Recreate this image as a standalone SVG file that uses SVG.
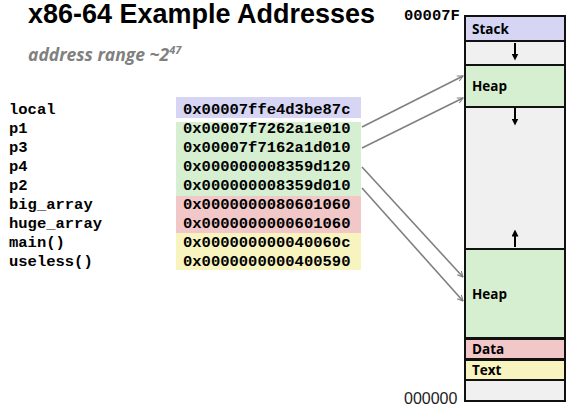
<svg xmlns="http://www.w3.org/2000/svg" width="587" height="410" viewBox="0 0 587 410">
<style>
.title{font-family:"Liberation Sans",Arial,sans-serif;font-weight:bold;font-size:27px;fill:#000}
.sub{font-family:"Open Sans","Liberation Sans",sans-serif;font-weight:bold;font-style:italic;font-size:17.5px;fill:#808080}
.mono{font-family:"Liberation Mono","Courier New",monospace;font-weight:bold;font-size:15.5px;fill:#000}
.seg{stroke:#111;stroke-width:2}
.lbl{font-family:"Open Sans","Liberation Sans",sans-serif;font-weight:bold;font-size:13.5px;fill:#000}
.conn{stroke:#808080;stroke-width:1.6;fill:none;marker-end:url(#ah)}
.grow{stroke:#000;stroke-width:2;fill:none;marker-end:url(#bh)}
.lav{fill:#d6d6f4}.grn{fill:#d5efd0}.red{fill:#f2c7c7}.yel{fill:#f7f4c0}.gry{fill:#f0f0f0}
</style>
<defs>
<marker id="ah" viewBox="0 0 10 10" refX="9" refY="5" markerWidth="7" markerHeight="7" orient="auto" markerUnits="userSpaceOnUse">
<polyline points="1,1 9,5 1,9" fill="none" stroke="#808080" stroke-width="1.6"/>
</marker>
<marker id="bh" viewBox="0 0 10 10" refX="5" refY="5" markerWidth="7" markerHeight="7" orient="auto" markerUnits="userSpaceOnUse">
<path d="M0,0 L10,5 L0,10 Z" fill="#000"/>
</marker>
</defs>
<text class="title" x="28" y="23" textLength="347" lengthAdjust="spacingAndGlyphs">x86-64 Example Addresses</text>
<text class="sub" x="28" y="61">address range ~2<tspan font-size="11" dy="-7">47</tspan></text>

<g id="vars">
<rect class="lav" x="176" y="97" width="185" height="21"/>
<rect class="grn" x="176" y="122" width="185" height="74"/>
<rect class="red" x="176" y="196" width="185" height="37"/>
<rect class="yel" x="176" y="233" width="185" height="37"/>
<text class="mono" x="9" y="114">local</text><text class="mono" x="183" y="114">0x00007ffe4d3be87c</text>
<text class="mono" x="9" y="133">p1</text><text class="mono" x="183" y="133">0x00007f7262a1e010</text>
<text class="mono" x="9" y="152">p3</text><text class="mono" x="183" y="152">0x00007f7162a1d010</text>
<text class="mono" x="9" y="171">p4</text><text class="mono" x="183" y="171">0x000000008359d120</text>
<text class="mono" x="9" y="190">p2</text><text class="mono" x="183" y="190">0x000000008359d010</text>
<text class="mono" x="9" y="209">big_array</text><text class="mono" x="183" y="209">0x0000000080601060</text>
<text class="mono" x="9" y="228">huge_array</text><text class="mono" x="183" y="228">0x0000000000601060</text>
<text class="mono" x="9" y="247">main()</text><text class="mono" x="183" y="247">0x000000000040060c</text>
<text class="mono" x="9" y="266">useless()</text><text class="mono" x="183" y="266">0x0000000000400590</text>
</g>

<g id="memory">
<text class="mono" x="404" y="20" font-size="14">00007F</text>
<text x="404" y="404" font-family="Liberation Sans,Arial,sans-serif" font-size="16" fill="#222">000000</text>
<rect class="gry seg" x="465" y="16" width="100" height="385"/>
<rect class="lav seg" x="465" y="16" width="100" height="25"/>
<rect class="grn seg" x="465" y="65" width="100" height="42"/>
<rect class="grn seg" x="465" y="249" width="100" height="89"/>
<rect class="red seg" x="465" y="339" width="100" height="20"/>
<rect class="yel seg" x="465" y="360" width="100" height="20"/>
<line class="seg" x1="465" y1="41" x2="565" y2="41"/>
<text class="lbl" x="472" y="34">Stack</text>
<text class="lbl" x="472" y="91">Heap</text>
<text class="lbl" x="472" y="299">Heap</text>
<text class="lbl" x="472" y="354">Data</text>
<text class="lbl" x="472" y="375">Text</text>
<line class="grow" x1="515" y1="43" x2="515" y2="57"/>
<line class="grow" x1="515" y1="108" x2="515" y2="122"/>
<line class="grow" x1="515" y1="247" x2="515" y2="233"/>
</g>

<g id="connectors">
<line class="conn" x1="362" y1="127" x2="463" y2="76"/>
<line class="conn" x1="362" y1="148" x2="463" y2="98"/>
<line class="conn" x1="362" y1="167" x2="463" y2="277"/>
<line class="conn" x1="362" y1="188" x2="463" y2="301"/>
</g>
</svg>
